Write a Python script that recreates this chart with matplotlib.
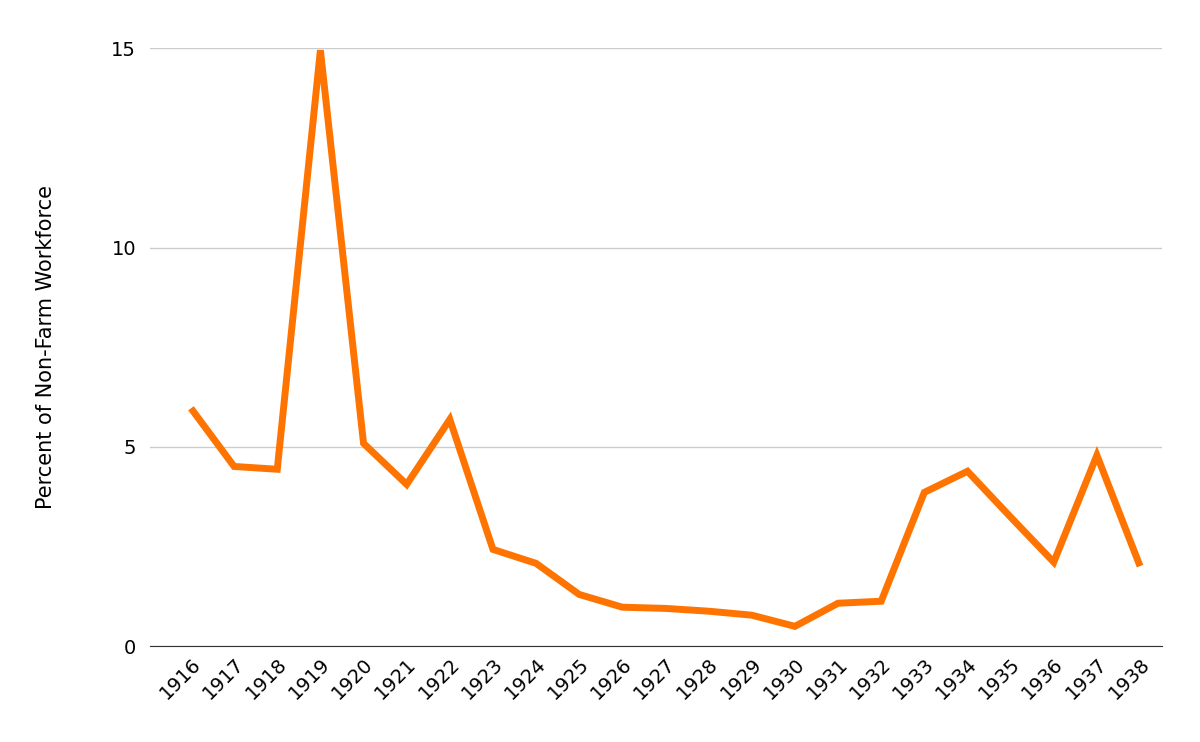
import matplotlib
matplotlib.use("Agg")
import matplotlib.pyplot as plt

years = [str(y) for y in range(1916, 1939)]
values = [5.97, 4.51, 4.44, 14.95, 5.09, 4.06, 5.69, 2.43, 2.08, 1.30, 0.98, 0.95,
          0.88, 0.78, 0.50, 1.08, 1.13, 3.86, 4.39, 3.24, 2.11, 4.79, 2.01]
yticks = [0, 5, 10, 15]

fig = plt.figure(figsize=(12, 7.42), dpi=100)
ax = fig.add_axes([0.125, 0.129, 0.843, 0.806])
x = list(range(len(years)))
ax.plot(x, values, color="#ff7400", linewidth=5, solid_joinstyle="miter", solid_capstyle="butt")
ax.set_xlim(-0.5, len(years) - 0.5 + 0.5)
ax.set_xlim(-0.95, 22.5)
ax.set_ylim(0, 15)
ax.set_yticks(yticks)
ax.set_yticklabels([str(t) for t in yticks], fontsize=14)
ax.set_xticks(x)
ax.set_xticklabels(years, rotation=45, ha="right", rotation_mode="anchor", fontsize=14)
ax.grid(axis="y", color="#cccccc", linewidth=1)
ax.set_axisbelow(True)
for s in ["top", "right", "left"]:
    ax.spines[s].set_visible(False)
ax.spines["bottom"].set_color("#333333")
ax.tick_params(length=0, pad=10)
ax.tick_params(axis="x", pad=6)
ax.set_ylabel("Percent of Non-Farm Workforce", fontsize=15, labelpad=40)
fig.savefig("out.png")
